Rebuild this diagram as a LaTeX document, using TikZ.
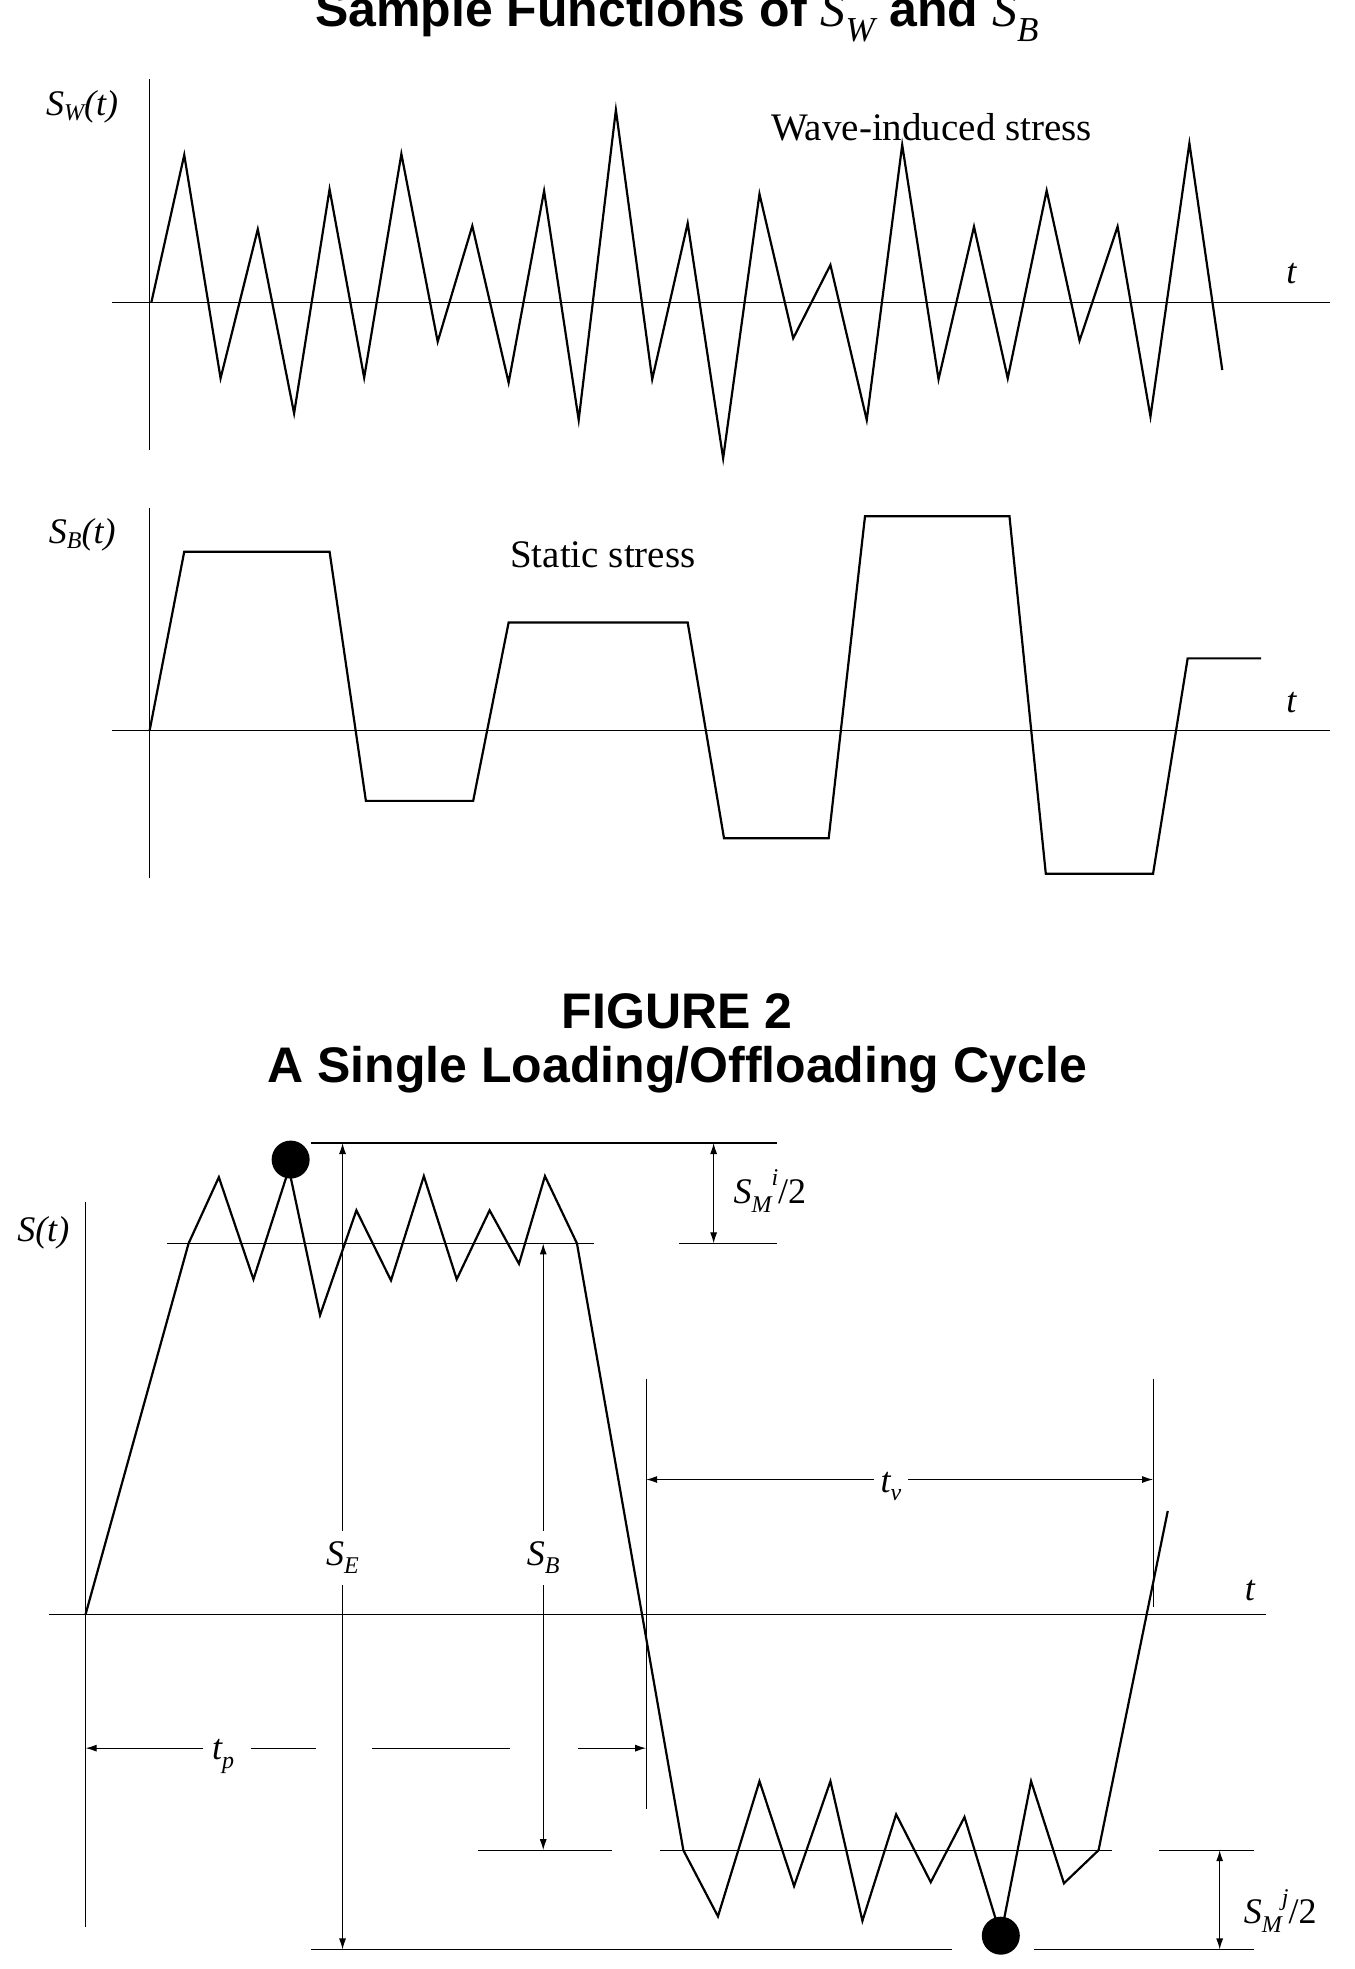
\documentclass[tikz,border=0pt]{standalone}
\usepackage{fontspec}
\setmainfont{Liberation Serif}
\newfontfamily\hsans{Liberation Sans}
\usetikzlibrary{arrows.meta}
\tikzset{curve/.style={line width=2.2pt,line join=miter},
 ax/.style={line width=1.2pt},
 dim/.style={line width=1.1pt},
 tip/.style={-{Latex[length=11pt,width=7pt]}},
 lbl/.style={font=\fontsize{36}{40}\selectfont\itshape,inner sep=0pt},
 txt/.style={font=\fontsize{39}{44}\selectfont,inner sep=0pt},
 ttl/.style={font=\hsans\bfseries\fontsize{50}{56}\selectfont,inner sep=0pt}}
\begin{document}
\begin{tikzpicture}[x=1pt,y=-1pt]
\useasboundingbox (0,0) rectangle (1354,1969);
\fill[white] (0,0) rectangle (1354,1969);
\node[ttl,anchor=base] (t0) at (677,27) {Sample Functions of {\rmfamily\mdseries\itshape S\textsubscript{W}} and {\rmfamily\mdseries\itshape S\textsubscript{B}}};
\node[ttl] (t1) at (677,1011) {FIGURE 2};
\node[ttl] (t2) at (677,1070) {A Single Loading/Offloading Cycle};
% top
\begin{scope}[x=0.865pt,y=-0.3333pt]
\draw[ax] (173,238) -- (173,1350);
\draw[ax] (130,907) -- (1537,907);
\draw[curve] (175,907)--(213,465)--(255,1135)--(298,688)--(340,1240)--(381,568)--(421,1133)--(464,462)--(506,1025)--(546,678)--(588,1148)--(629,573)--(669,1260)--(712,330)--(754,1138)--(795,670)--(836,1375)--(878,582)--(917,1015)--(960,795)--(1002,1260)--(1043,435)--(1085,1138)--(1126,680)--(1165,1135)--(1210,572)--(1248,1022)--(1292,680)--(1330,1250)--(1375,430)--(1413,1110);
\node[lbl] (sw) at (95,320) {S\raisebox{-0.3ex}{\fontsize{24}{24}\selectfont W}(t)};
\node[lbl] (tt1) at (1493,820) {t};
\node[txt] (wis) at (1077,383) {Wave-induced stress};
\end{scope}
% middle
\begin{scope}[shift={(0,480)},x=0.865pt,y=-0.3937pt]
\draw[ax] (173,72) -- (173,1010);
\draw[ax] (130,636) -- (1537,636);
\draw[curve] (173,636)--(213,182)--(381,182)--(423,815)--(547,815)--(588,362)--(795,362)--(837,910)--(958,910)--(1000,92)--(1167,92)--(1209,1000)--(1333,1000)--(1373,453)--(1458,453);
\node[lbl] (sb) at (95,140) {S\raisebox{-0.3ex}{\fontsize{24}{24}\selectfont B}(t)};
\node[lbl] (tt2) at (1493,565) {t};
\node[txt] (sts) at (697,190) {Static stress};
\end{scope}
% bottom
\begin{scope}[shift={(0,1100)},x=0.865pt,y=-0.5516pt]
\draw[ax] (99,185) -- (99,1500);
\draw[ax] (57,932) -- (1463,932);
\draw[curve] (99,932)--(218,260)--(253,140)--(293,325)--(334,125)--(370,390)--(412,200)--(452,327)--(490,138)--(528,325)--(566,200)--(600,297)--(630,138)--(667,260)--(790,1360)--(830,1480)--(878,1235)--(918,1425)--(960,1235)--(997,1488)--(1036,1295)--(1076,1418)--(1115,1300)--(1157,1515)--(1192,1235)--(1230,1420)--(1270,1360)--(1350,745);
\fill (336,108) ellipse (19pt and 19pt);
\fill (1157,1515) ellipse (19pt and 19pt);
\draw[dim] (360,78)--(898,78);
\draw[dim] (193,260)--(687,260);
\draw[dim] (785,260)--(898,260);
\draw[dim] (553,1360)--(707,1360);
\draw[dim] (763,1360)--(1285,1360);
\draw[dim] (1340,1360)--(1450,1360);
\draw[dim] (360,1540)--(1100,1540);
\draw[dim] (1195,1540)--(1450,1540);
\draw[dim] (747,505)--(747,1285);
\draw[dim] (1333,505)--(1333,920);
\node[lbl] (st) at (50,240) {S(t)};
\node[lbl] (smi) at (890,165) {S\raisebox{-0.5ex}{\fontsize{24}{24}\selectfont M}\raisebox{1.1ex}{\fontsize{24}{24}\selectfont i}\upshape/2};
\node[lbl] (se) at (396,830) {S\raisebox{-0.5ex}{\fontsize{24}{24}\selectfont E}};
\node[lbl] (sbb) at (628,830) {S\raisebox{-0.5ex}{\fontsize{24}{24}\selectfont B}};
\node[lbl] (tv) at (1030,700) {t\raisebox{-0.5ex}{\fontsize{24}{24}\selectfont v}};
\node[lbl] (tb) at (1445,890) {t};
\node[lbl] (tp) at (258,1190) {t\raisebox{-0.5ex}{\fontsize{24}{24}\selectfont p}};
\node[lbl] (smj) at (1480,1470) {S\raisebox{-0.5ex}{\fontsize{24}{24}\selectfont M}\raisebox{1.1ex}{\fontsize{24}{24}\selectfont j}\upshape/2};
\draw[dim,tip] (se.north) ++(0,-20) -- (396,78);
\draw[dim,tip] (se.south) ++(0,20) -- (396,1540);
\draw[dim,tip] (sbb.north) ++(0,-20) -- (628,260);
\draw[dim,tip] (sbb.south) ++(0,20) -- (628,1360);
\draw[dim,{Latex[length=11pt,width=7pt]}-{Latex[length=11pt,width=7pt]}] (825,78) -- (825,260);
\draw[dim,{Latex[length=11pt,width=7pt]}-{Latex[length=11pt,width=7pt]}] (1410,1360) -- (1410,1540);
\draw[dim,tip] (tv.west) ++(-8,-12) -- (747,688);
\draw[dim,tip] (tv.east) ++(8,-12) -- (1333,688);
\draw[dim,tip] (235,1175) -- (99,1175);
\draw[dim] (290,1175) -- (365,1175);
\draw[dim] (430,1175) -- (590,1175);
\draw[dim,tip] (668,1175) -- (747,1175);
\end{scope}
\end{tikzpicture}
\end{document}
